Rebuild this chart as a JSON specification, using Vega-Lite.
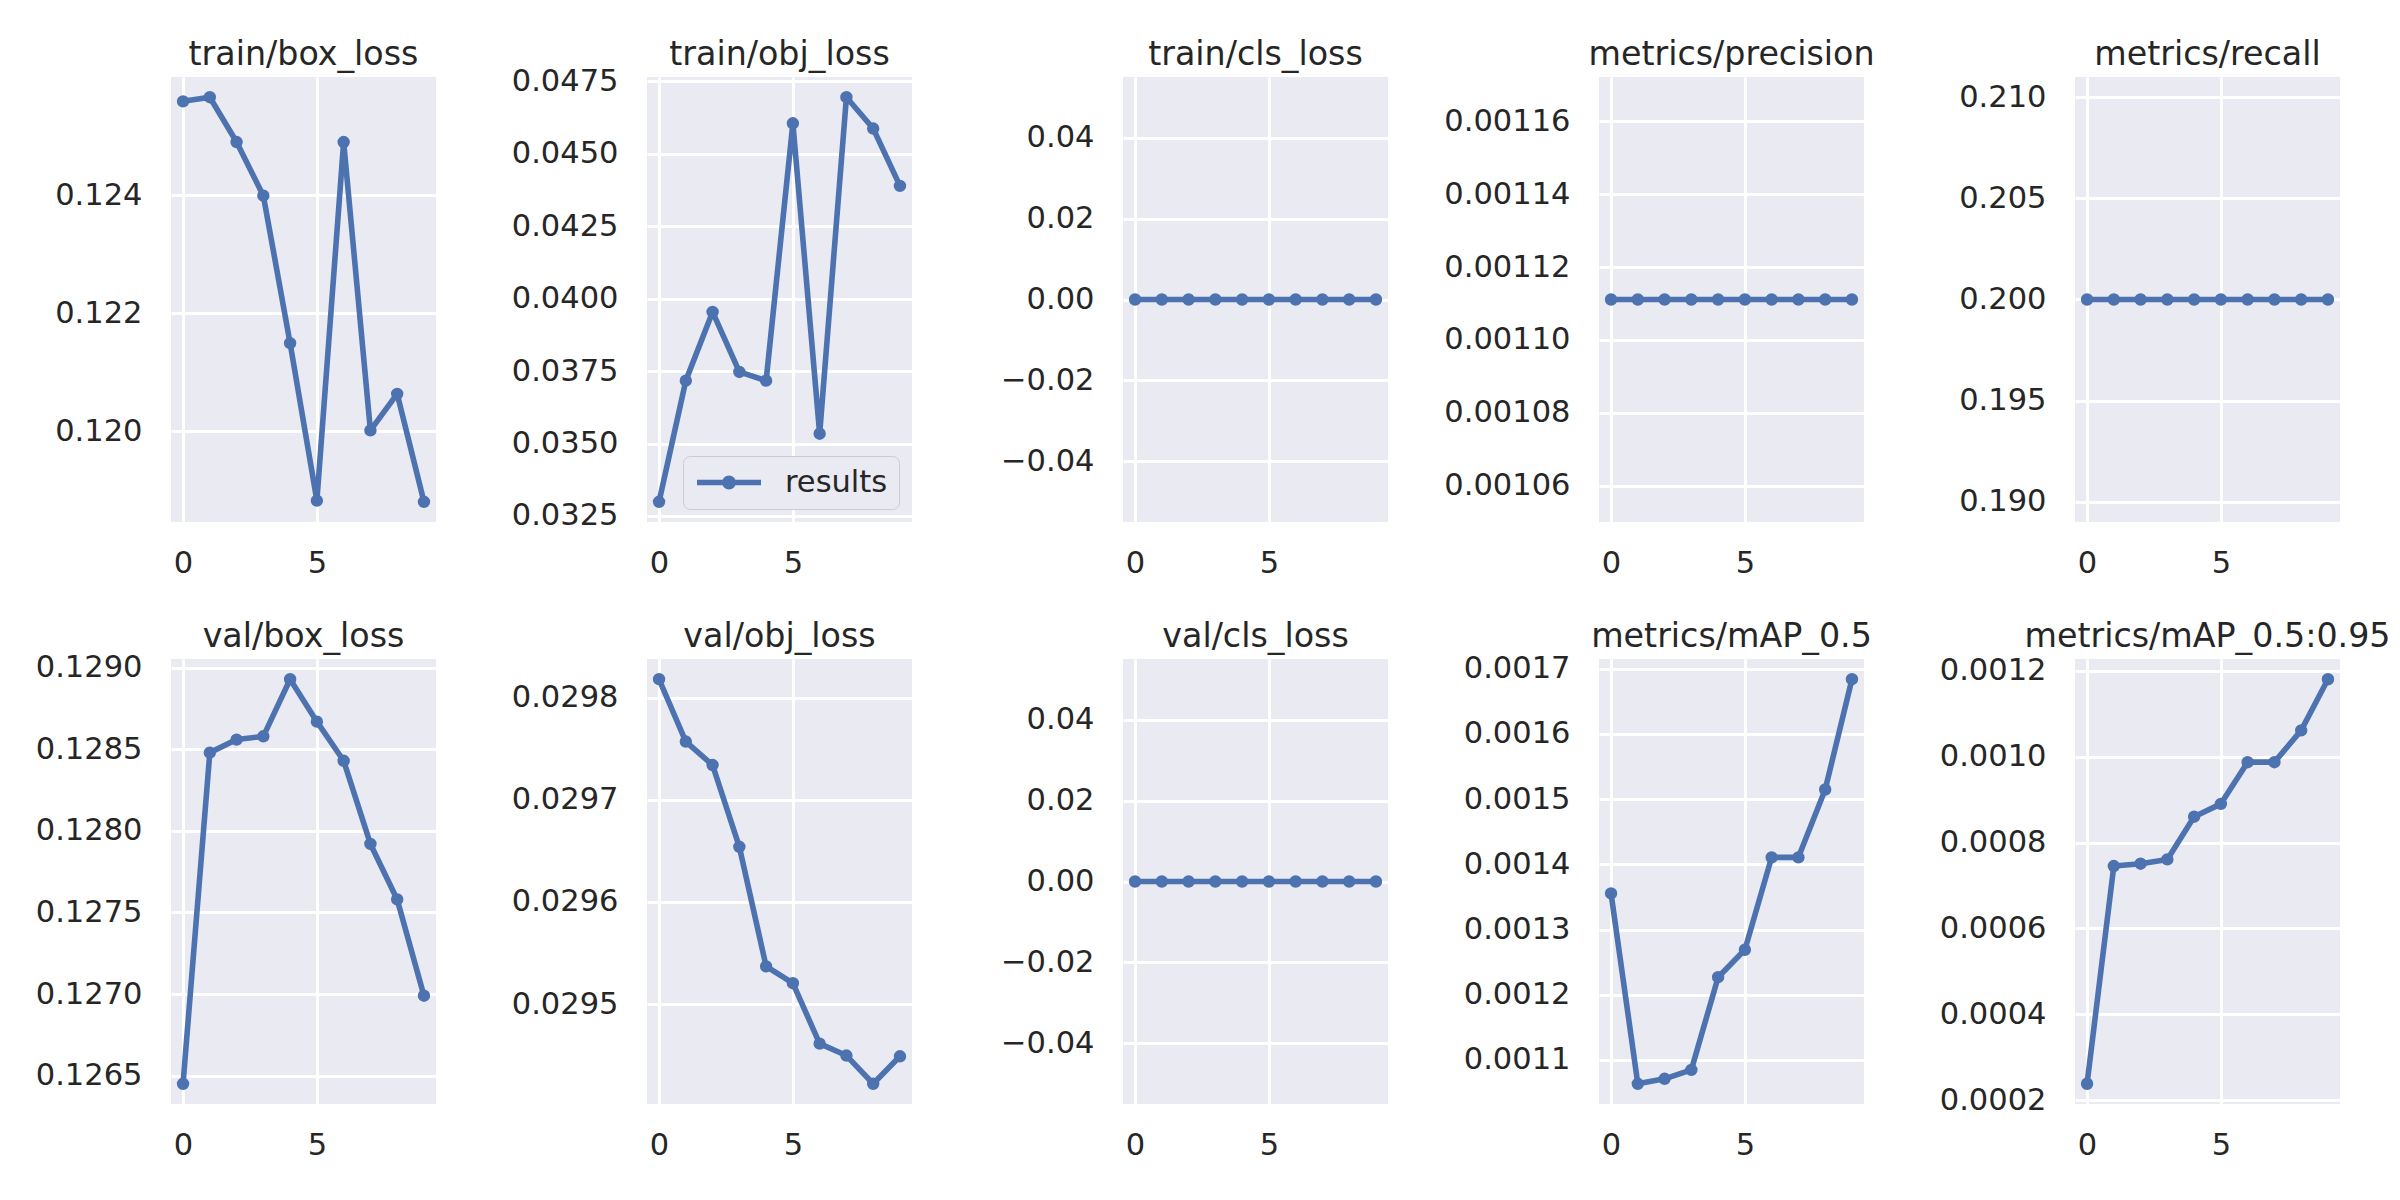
{
  "$schema": "https://vega.github.io/schema/vega-lite/v6.json",
  "background": "white",
  "padding": {"left": 35, "top": 37, "right": 0, "bottom": 0},
  "config": {
    "font": "DejaVu Sans",
    "view": {"fill": "#EAEAF2", "stroke": null},
    "axis": {
      "domain": false, "ticks": false, "tickSize": 0,
      "grid": true, "gridColor": "#FFFFFF", "gridWidth": 3,
      "labelFont": "DejaVu Sans", "labelFontSize": 30.5, "labelColor": "#262626",
      "title": null
    },
    "axisX": {"labelPadding": 26},
    "axisY": {"labelPadding": 29},
    "title": {"font": "DejaVu Sans", "fontSize": 33.3, "fontWeight": "normal", "color": "#262626", "anchor": "middle", "baseline": "alphabetic", "offset": 5},
    "legend": {"labelFont": "DejaVu Sans", "labelFontSize": 30.5, "labelColor": "#262626"},
    "line": {"color": "#4C72B0", "strokeWidth": 5.6, "strokeJoin": "round"},
    "point": {"color": "#4C72B0", "filled": true, "size": 154, "opacity": 1}
  },
  "data": {"values": [
    {"metric": "train/box_loss", "epoch": 0, "value": 0.12559},
    {"metric": "train/box_loss", "epoch": 1, "value": 0.12566},
    {"metric": "train/box_loss", "epoch": 2, "value": 0.12490},
    {"metric": "train/box_loss", "epoch": 3, "value": 0.12399},
    {"metric": "train/box_loss", "epoch": 4, "value": 0.12149},
    {"metric": "train/box_loss", "epoch": 5, "value": 0.11882},
    {"metric": "train/box_loss", "epoch": 6, "value": 0.12490},
    {"metric": "train/box_loss", "epoch": 7, "value": 0.12001},
    {"metric": "train/box_loss", "epoch": 8, "value": 0.12063},
    {"metric": "train/box_loss", "epoch": 9, "value": 0.11880},
    {"metric": "train/obj_loss", "epoch": 0, "value": 0.03299},
    {"metric": "train/obj_loss", "epoch": 1, "value": 0.03717},
    {"metric": "train/obj_loss", "epoch": 2, "value": 0.03954},
    {"metric": "train/obj_loss", "epoch": 3, "value": 0.03747},
    {"metric": "train/obj_loss", "epoch": 4, "value": 0.03717},
    {"metric": "train/obj_loss", "epoch": 5, "value": 0.04605},
    {"metric": "train/obj_loss", "epoch": 6, "value": 0.03534},
    {"metric": "train/obj_loss", "epoch": 7, "value": 0.04695},
    {"metric": "train/obj_loss", "epoch": 8, "value": 0.04587},
    {"metric": "train/obj_loss", "epoch": 9, "value": 0.04389},
    {"metric": "train/cls_loss", "epoch": 0, "value": 0},
    {"metric": "train/cls_loss", "epoch": 1, "value": 0},
    {"metric": "train/cls_loss", "epoch": 2, "value": 0},
    {"metric": "train/cls_loss", "epoch": 3, "value": 0},
    {"metric": "train/cls_loss", "epoch": 4, "value": 0},
    {"metric": "train/cls_loss", "epoch": 5, "value": 0},
    {"metric": "train/cls_loss", "epoch": 6, "value": 0},
    {"metric": "train/cls_loss", "epoch": 7, "value": 0},
    {"metric": "train/cls_loss", "epoch": 8, "value": 0},
    {"metric": "train/cls_loss", "epoch": 9, "value": 0},
    {"metric": "metrics/precision", "epoch": 0, "value": 0.0011111},
    {"metric": "metrics/precision", "epoch": 1, "value": 0.0011111},
    {"metric": "metrics/precision", "epoch": 2, "value": 0.0011111},
    {"metric": "metrics/precision", "epoch": 3, "value": 0.0011111},
    {"metric": "metrics/precision", "epoch": 4, "value": 0.0011111},
    {"metric": "metrics/precision", "epoch": 5, "value": 0.0011111},
    {"metric": "metrics/precision", "epoch": 6, "value": 0.0011111},
    {"metric": "metrics/precision", "epoch": 7, "value": 0.0011111},
    {"metric": "metrics/precision", "epoch": 8, "value": 0.0011111},
    {"metric": "metrics/precision", "epoch": 9, "value": 0.0011111},
    {"metric": "metrics/recall", "epoch": 0, "value": 0.2},
    {"metric": "metrics/recall", "epoch": 1, "value": 0.2},
    {"metric": "metrics/recall", "epoch": 2, "value": 0.2},
    {"metric": "metrics/recall", "epoch": 3, "value": 0.2},
    {"metric": "metrics/recall", "epoch": 4, "value": 0.2},
    {"metric": "metrics/recall", "epoch": 5, "value": 0.2},
    {"metric": "metrics/recall", "epoch": 6, "value": 0.2},
    {"metric": "metrics/recall", "epoch": 7, "value": 0.2},
    {"metric": "metrics/recall", "epoch": 8, "value": 0.2},
    {"metric": "metrics/recall", "epoch": 9, "value": 0.2},
    {"metric": "val/box_loss", "epoch": 0, "value": 0.12645},
    {"metric": "val/box_loss", "epoch": 1, "value": 0.12848},
    {"metric": "val/box_loss", "epoch": 2, "value": 0.12856},
    {"metric": "val/box_loss", "epoch": 3, "value": 0.12858},
    {"metric": "val/box_loss", "epoch": 4, "value": 0.12893},
    {"metric": "val/box_loss", "epoch": 5, "value": 0.12867},
    {"metric": "val/box_loss", "epoch": 6, "value": 0.12843},
    {"metric": "val/box_loss", "epoch": 7, "value": 0.12792},
    {"metric": "val/box_loss", "epoch": 8, "value": 0.12758},
    {"metric": "val/box_loss", "epoch": 9, "value": 0.12699},
    {"metric": "val/obj_loss", "epoch": 0, "value": 0.029818},
    {"metric": "val/obj_loss", "epoch": 1, "value": 0.029757},
    {"metric": "val/obj_loss", "epoch": 2, "value": 0.029734},
    {"metric": "val/obj_loss", "epoch": 3, "value": 0.029654},
    {"metric": "val/obj_loss", "epoch": 4, "value": 0.029537},
    {"metric": "val/obj_loss", "epoch": 5, "value": 0.0295205},
    {"metric": "val/obj_loss", "epoch": 6, "value": 0.0294614},
    {"metric": "val/obj_loss", "epoch": 7, "value": 0.0294497},
    {"metric": "val/obj_loss", "epoch": 8, "value": 0.0294221},
    {"metric": "val/obj_loss", "epoch": 9, "value": 0.029449},
    {"metric": "val/cls_loss", "epoch": 0, "value": 0},
    {"metric": "val/cls_loss", "epoch": 1, "value": 0},
    {"metric": "val/cls_loss", "epoch": 2, "value": 0},
    {"metric": "val/cls_loss", "epoch": 3, "value": 0},
    {"metric": "val/cls_loss", "epoch": 4, "value": 0},
    {"metric": "val/cls_loss", "epoch": 5, "value": 0},
    {"metric": "val/cls_loss", "epoch": 6, "value": 0},
    {"metric": "val/cls_loss", "epoch": 7, "value": 0},
    {"metric": "val/cls_loss", "epoch": 8, "value": 0},
    {"metric": "val/cls_loss", "epoch": 9, "value": 0},
    {"metric": "metrics/mAP_0.5", "epoch": 0, "value": 0.0013553},
    {"metric": "metrics/mAP_0.5", "epoch": 1, "value": 0.0010635},
    {"metric": "metrics/mAP_0.5", "epoch": 2, "value": 0.0010711},
    {"metric": "metrics/mAP_0.5", "epoch": 3, "value": 0.0010848},
    {"metric": "metrics/mAP_0.5", "epoch": 4, "value": 0.0012269},
    {"metric": "metrics/mAP_0.5", "epoch": 5, "value": 0.0012690},
    {"metric": "metrics/mAP_0.5", "epoch": 6, "value": 0.0014107},
    {"metric": "metrics/mAP_0.5", "epoch": 7, "value": 0.0014107},
    {"metric": "metrics/mAP_0.5", "epoch": 8, "value": 0.0015147},
    {"metric": "metrics/mAP_0.5", "epoch": 9, "value": 0.0016838},
    {"metric": "metrics/mAP_0.5:0.95", "epoch": 0, "value": 0.0002386},
    {"metric": "metrics/mAP_0.5:0.95", "epoch": 1, "value": 0.0007453},
    {"metric": "metrics/mAP_0.5:0.95", "epoch": 2, "value": 0.0007507},
    {"metric": "metrics/mAP_0.5:0.95", "epoch": 3, "value": 0.0007607},
    {"metric": "metrics/mAP_0.5:0.95", "epoch": 4, "value": 0.0008601},
    {"metric": "metrics/mAP_0.5:0.95", "epoch": 5, "value": 0.0008900},
    {"metric": "metrics/mAP_0.5:0.95", "epoch": 6, "value": 0.0009870},
    {"metric": "metrics/mAP_0.5:0.95", "epoch": 7, "value": 0.0009870},
    {"metric": "metrics/mAP_0.5:0.95", "epoch": 8, "value": 0.0010610},
    {"metric": "metrics/mAP_0.5:0.95", "epoch": 9, "value": 0.0011800}
  ]},
  "columns": 5,
  "bounds": "flush",
  "spacing": {"row": 137, "column": 211},
  "resolve": {"scale": {"color": "independent"}, "legend": {"color": "independent"}},
  "concat": [
    {
      "title": {"text": "train/box_loss", "offset": 5},
      "width": 265, "height": 445,
      "transform": [{"filter": {"field": "metric", "equal": "train/box_loss"}}],
      "mark": {"type": "line", "point": true},
      "encoding": {
        "x": {"field": "epoch", "type": "quantitative", "scale": {"domain": [-0.45, 9.45], "nice": false, "zero": false}, "axis": {"values": [0, 5], "format": "d"}},
        "y": {"field": "value", "type": "quantitative", "scale": {"domain": [0.118457, 0.126003], "nice": false, "zero": false}, "axis": {"values": [0.120, 0.122, 0.124], "format": ".3f"}}
      }
    },
    {
      "title": {"text": "train/obj_loss", "offset": -6},
      "width": 265, "height": 445,
      "transform": [{"filter": {"field": "metric", "equal": "train/obj_loss"}}],
      "mark": {"type": "line", "point": true},
      "encoding": {
        "x": {"field": "epoch", "type": "quantitative", "scale": {"domain": [-0.45, 9.45], "nice": false, "zero": false}, "axis": {"values": [0, 5], "format": "d"}},
        "y": {"field": "value", "type": "quantitative", "scale": {"domain": [0.032292, 0.047648], "nice": false, "zero": false}, "axis": {"values": [0.0325, 0.035, 0.0375, 0.04, 0.0425, 0.045, 0.0475], "format": ".4f"}},
        "color": {
          "datum": "results",
          "scale": {"range": ["#4C72B0"]},
          "legend": {
            "title": null,
            "orient": "bottom-right",
            "offset": 13,
            "padding": 11,
            "fillColor": "#EAEAF2",
            "strokeColor": "#CCCCCC",
            "cornerRadius": 7,
            "symbolType": "M-1,0L4.12,0M1.224,0A0.336,0.336 0 1,0 1.896,0A0.336,0.336 0 1,0 1.224,0Z",
            "symbolSize": 625,
            "symbolStrokeWidth": 5.6,
            "labelOffset": 60,
            "labelFontSize": 30.5,
            "encode": {"symbols": {"update": {"fill": {"value": "#4C72B0"}, "stroke": {"value": "#4C72B0"}, "strokeWidth": {"value": 5.6}}}, "legend": {"update": {"strokeWidth": {"value": 2.5}}}}
          }
        }
      }
    },
    {
      "title": {"text": "train/cls_loss", "offset": 5},
      "width": 265, "height": 445,
      "transform": [{"filter": {"field": "metric", "equal": "train/cls_loss"}}],
      "mark": {"type": "line", "point": true},
      "encoding": {
        "x": {"field": "epoch", "type": "quantitative", "scale": {"domain": [-0.45, 9.45], "nice": false, "zero": false}, "axis": {"values": [0, 5], "format": "d"}},
        "y": {"field": "value", "type": "quantitative", "scale": {"domain": [-0.055, 0.055], "nice": false, "zero": false}, "axis": {"values": [-0.04, -0.02, 0, 0.02, 0.04], "format": ".2f"}}
      }
    },
    {
      "title": {"text": "metrics/precision", "offset": 5},
      "width": 265, "height": 445,
      "transform": [{"filter": {"field": "metric", "equal": "metrics/precision"}}],
      "mark": {"type": "line", "point": true},
      "encoding": {
        "x": {"field": "epoch", "type": "quantitative", "scale": {"domain": [-0.45, 9.45], "nice": false, "zero": false}, "axis": {"values": [0, 5], "format": "d"}},
        "y": {"field": "value", "type": "quantitative", "scale": {"domain": [0.00105, 0.0011722], "nice": false, "zero": false}, "axis": {"values": [0.00106, 0.00108, 0.0011, 0.00112, 0.00114, 0.00116], "format": ".5f"}}
      }
    },
    {
      "title": {"text": "metrics/recall", "offset": 5},
      "width": 265, "height": 445,
      "transform": [{"filter": {"field": "metric", "equal": "metrics/recall"}}],
      "mark": {"type": "line", "point": true},
      "encoding": {
        "x": {"field": "epoch", "type": "quantitative", "scale": {"domain": [-0.45, 9.45], "nice": false, "zero": false}, "axis": {"values": [0, 5], "format": "d"}},
        "y": {"field": "value", "type": "quantitative", "scale": {"domain": [0.189, 0.211], "nice": false, "zero": false}, "axis": {"values": [0.19, 0.195, 0.2, 0.205, 0.21], "format": ".3f"}}
      }
    },
    {
      "title": {"text": "val/box_loss", "offset": -1.5},
      "width": 265, "height": 445,
      "transform": [{"filter": {"field": "metric", "equal": "val/box_loss"}}],
      "mark": {"type": "line", "point": true},
      "encoding": {
        "x": {"field": "epoch", "type": "quantitative", "scale": {"domain": [-0.45, 9.45], "nice": false, "zero": false}, "axis": {"values": [0, 5], "format": "d"}},
        "y": {"field": "value", "type": "quantitative", "scale": {"domain": [0.126326, 0.129054], "nice": false, "zero": false}, "axis": {"values": [0.1265, 0.127, 0.1275, 0.128, 0.1285, 0.129], "format": ".4f"}}
      }
    },
    {
      "title": {"text": "val/obj_loss", "offset": 5},
      "width": 265, "height": 445,
      "transform": [{"filter": {"field": "metric", "equal": "val/obj_loss"}}],
      "mark": {"type": "line", "point": true},
      "encoding": {
        "x": {"field": "epoch", "type": "quantitative", "scale": {"domain": [-0.45, 9.45], "nice": false, "zero": false}, "axis": {"values": [0, 5], "format": "d"}},
        "y": {"field": "value", "type": "quantitative", "scale": {"domain": [0.0294023, 0.0298378], "nice": false, "zero": false}, "axis": {"values": [0.0295, 0.0296, 0.0297, 0.0298], "format": ".4f"}}
      }
    },
    {
      "title": {"text": "val/cls_loss", "offset": 5},
      "width": 265, "height": 445,
      "transform": [{"filter": {"field": "metric", "equal": "val/cls_loss"}}],
      "mark": {"type": "line", "point": true},
      "encoding": {
        "x": {"field": "epoch", "type": "quantitative", "scale": {"domain": [-0.45, 9.45], "nice": false, "zero": false}, "axis": {"values": [0, 5], "format": "d"}},
        "y": {"field": "value", "type": "quantitative", "scale": {"domain": [-0.055, 0.055], "nice": false, "zero": false}, "axis": {"values": [-0.04, -0.02, 0, 0.02, 0.04], "format": ".2f"}}
      }
    },
    {
      "title": {"text": "metrics/mAP_0.5", "offset": -0.6},
      "width": 265, "height": 445,
      "transform": [{"filter": {"field": "metric", "equal": "metrics/mAP_0.5"}}],
      "mark": {"type": "line", "point": true},
      "encoding": {
        "x": {"field": "epoch", "type": "quantitative", "scale": {"domain": [-0.45, 9.45], "nice": false, "zero": false}, "axis": {"values": [0, 5], "format": "d"}},
        "y": {"field": "value", "type": "quantitative", "scale": {"domain": [0.0010325, 0.0017148], "nice": false, "zero": false}, "axis": {"values": [0.0011, 0.0012, 0.0013, 0.0014, 0.0015, 0.0016, 0.0017], "format": ".4f"}}
      }
    },
    {
      "title": {"text": "metrics/mAP_0.5:0.95", "offset": 1.4},
      "width": 265, "height": 445,
      "transform": [{"filter": {"field": "metric", "equal": "metrics/mAP_0.5:0.95"}}],
      "mark": {"type": "line", "point": true},
      "encoding": {
        "x": {"field": "epoch", "type": "quantitative", "scale": {"domain": [-0.45, 9.45], "nice": false, "zero": false}, "axis": {"values": [0, 5], "format": "d"}},
        "y": {"field": "value", "type": "quantitative", "scale": {"domain": [0.0001915, 0.0012271], "nice": false, "zero": false}, "axis": {"values": [0.0002, 0.0004, 0.0006, 0.0008, 0.001, 0.0012], "format": ".4f"}}
      }
    }
  ]
}
